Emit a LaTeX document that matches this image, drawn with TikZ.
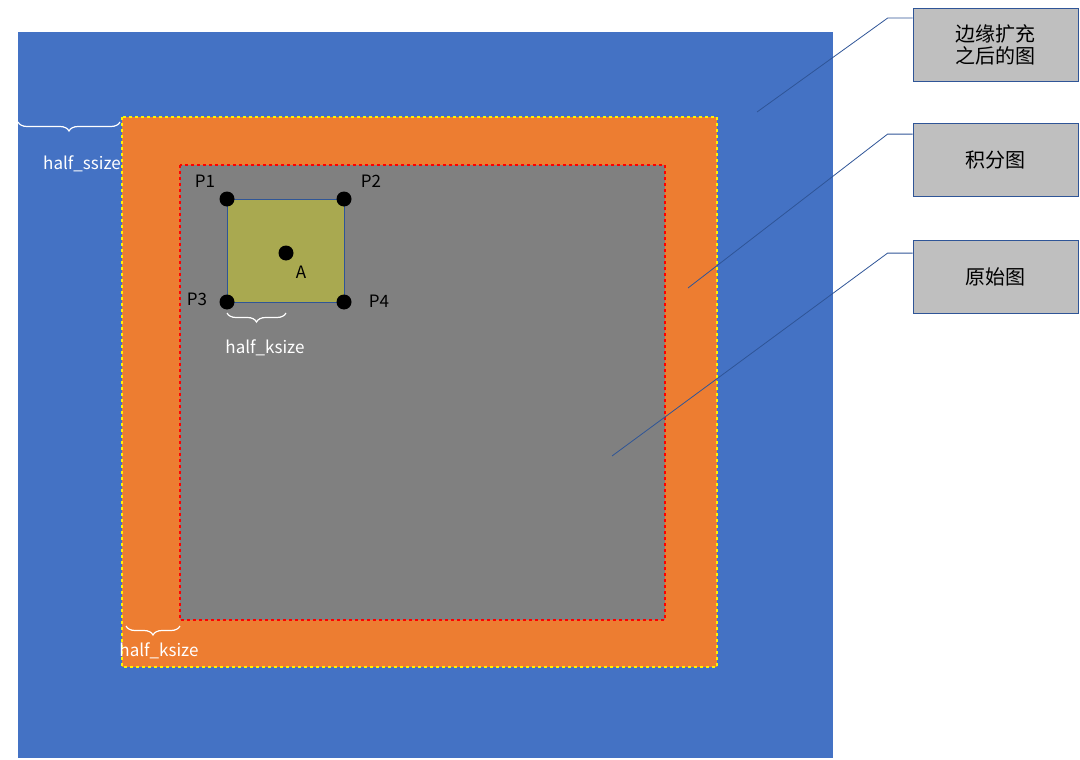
\documentclass[tikz,border=0pt]{standalone}
\usepackage{fontspec}
\setmainfont{Noto Sans CJK SC}
\usetikzlibrary{decorations.pathreplacing}
\definecolor{bblue}{HTML}{4472C4}
\definecolor{borange}{HTML}{ED7D31}
\definecolor{bgray}{HTML}{808080}
\definecolor{bolive}{HTML}{A9A950}
\definecolor{bbox}{HTML}{BFBFBF}
\definecolor{bline}{HTML}{2F5597}
\begin{document}
\begin{tikzpicture}[x=1pt,y=-1pt,
  dot/.style={circle,fill=black,inner sep=0pt,minimum size=15pt},
  lbl/.style={font=\fontsize{17}{20}\selectfont},
  wlbl/.style={font=\fontsize{17}{20}\selectfont,text=white},
  wbrace/.style={draw=white,line width=1.2pt,decorate,decoration={brace,amplitude=9pt}},
  cbox/.style={draw=bline,fill=bbox,minimum width=165pt,minimum height=73pt,align=center,font=\fontsize{20}{26}\selectfont,line width=0.8pt},
  call/.style={draw=bline,line width=0.8pt}]
\useasboundingbox (0,0) rectangle (1080,760);
\fill[bblue] (18,32) rectangle (833,758);
\draw[fill=borange,draw=yellow,dashed,line width=1.5pt] (122,117) rectangle (717,667);
\draw[fill=bgray,draw=red,dashed,line width=1.5pt] (180,165) rectangle (665,620);
\draw[fill=bolive,draw=bline,line width=0.8pt] (227,199) rectangle (344,302);
\node[dot] (p1) at (227,199) {};
\node[dot] (p2) at (344,199) {};
\node[dot] (p3) at (227,302) {};
\node[dot] (p4) at (344,302) {};
\node[dot] (a) at (286,253) {};
\node[lbl] (lp1) at (205,181) {P1};
\node[lbl] (lp2) at (371,181) {P2};
\node[lbl] (lp3) at (197,299) {P3};
\node[lbl] (lp4) at (379,301) {P4};
\node[lbl] (la) at (301,272) {A};
\draw[wbrace] (120,122) -- (18,122);
\node[wlbl] (hs) at (82,164) {half\_ssize};
\draw[wbrace] (286,313) -- (227,313);
\node[wlbl] (hk1) at (265,348) {half\_ksize};
\draw[wbrace] (180,626) -- (126,626);
\node[wlbl] (hk2) at (159,651) {half\_ksize};
\node[cbox] (b1) at (995.5,45) {边缘扩充\\[-4pt]之后的图};
\node[cbox] (b2) at (995.5,160) {积分图};
\node[cbox] (b3) at (995.5,277) {原始图};
\coordinate (e1) at (757,112);
\coordinate (e2) at (688,288);
\coordinate (e3) at (612,456);
\draw[call] (b1.north west) ++(0,10) -- ++(-25,0) -- (e1);
\draw[call] (b2.north west) ++(0,11) -- ++(-25,0) -- (e2);
\draw[call] (b3.north west) ++(0,13) -- ++(-25,0) -- (e3);
\end{tikzpicture}
\end{document}
